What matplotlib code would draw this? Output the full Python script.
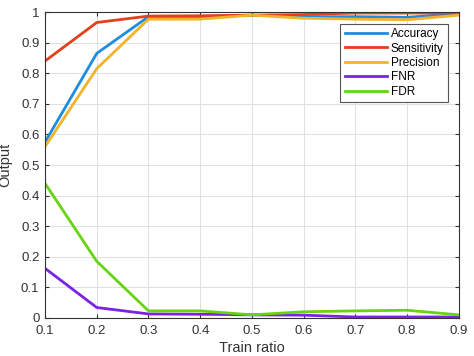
import matplotlib
matplotlib.use("Agg")
import matplotlib.pyplot as plt

plt.rcParams['font.family'] = ['Liberation Sans', 'DejaVu Sans']

train_ratio = [0.1, 0.2, 0.3, 0.4, 0.5, 0.6, 0.7, 0.8, 0.9]
accuracy = [0.575, 0.865, 0.985, 0.985, 0.99, 0.985, 0.985, 0.983, 0.995]
sensitivity = [0.84, 0.966, 0.987, 0.988, 0.99, 0.992, 0.997, 0.997, 0.997]
precision = [0.56, 0.815, 0.977, 0.977, 0.99, 0.98, 0.977, 0.975, 0.99]
fnr = [0.162, 0.034, 0.013, 0.012, 0.01, 0.009, 0.003, 0.003, 0.003]
fdr = [0.44, 0.185, 0.023, 0.023, 0.01, 0.02, 0.023, 0.025, 0.01]

series = [
    ("Accuracy", accuracy, "#1e8ce0"),
    ("Sensitivity", sensitivity, "#e4401c"),
    ("Precision", precision, "#f0b428"),
    ("FNR", fnr, "#7a22e6"),
    ("FDR", fdr, "#66d414"),
]

fig = plt.figure(figsize=(4.74, 3.56), dpi=100)
ax = fig.add_axes([0.095, 0.107, 0.873, 0.859])

for name, vals, col in series:
    ax.plot(train_ratio, vals, color=col, lw=2, label=name)

ax.set_xlim(0.1, 0.9)
ax.set_ylim(0, 1)
ax.set_xticks(train_ratio)
ax.set_xticklabels([f"{v:g}" for v in train_ratio])
ax.set_yticks([i / 10 for i in range(11)])
ax.set_yticklabels(["0"] + [f"{i / 10:g}" for i in range(1, 10)] + ["1"])
ax.grid(True, color="#e0e0e0", lw=0.7)
ax.tick_params(direction="in", top=True, right=True, labelsize=9.5, colors="#333333",
               length=3)
ax.tick_params(axis="x", pad=5)
ax.tick_params(axis="y", pad=4)
for s in ax.spines.values():
    s.set_color("#333333")
    s.set_linewidth(0.8)

ax.set_xlabel("Train ratio", fontsize=10.5, color="#333333", labelpad=3)
ax.set_ylabel("Output", fontsize=10.5, color="#333333", labelpad=6)

leg = ax.legend(loc="upper right", bbox_to_anchor=(0.987, 0.98), fontsize=8.5,
                fancybox=False, framealpha=1, edgecolor="#555555",
                handlelength=3.6, handletextpad=0.3, labelspacing=0.2,
                borderpad=0.35)
leg.get_frame().set_linewidth(0.8)

fig.savefig("out.png", dpi=100)
